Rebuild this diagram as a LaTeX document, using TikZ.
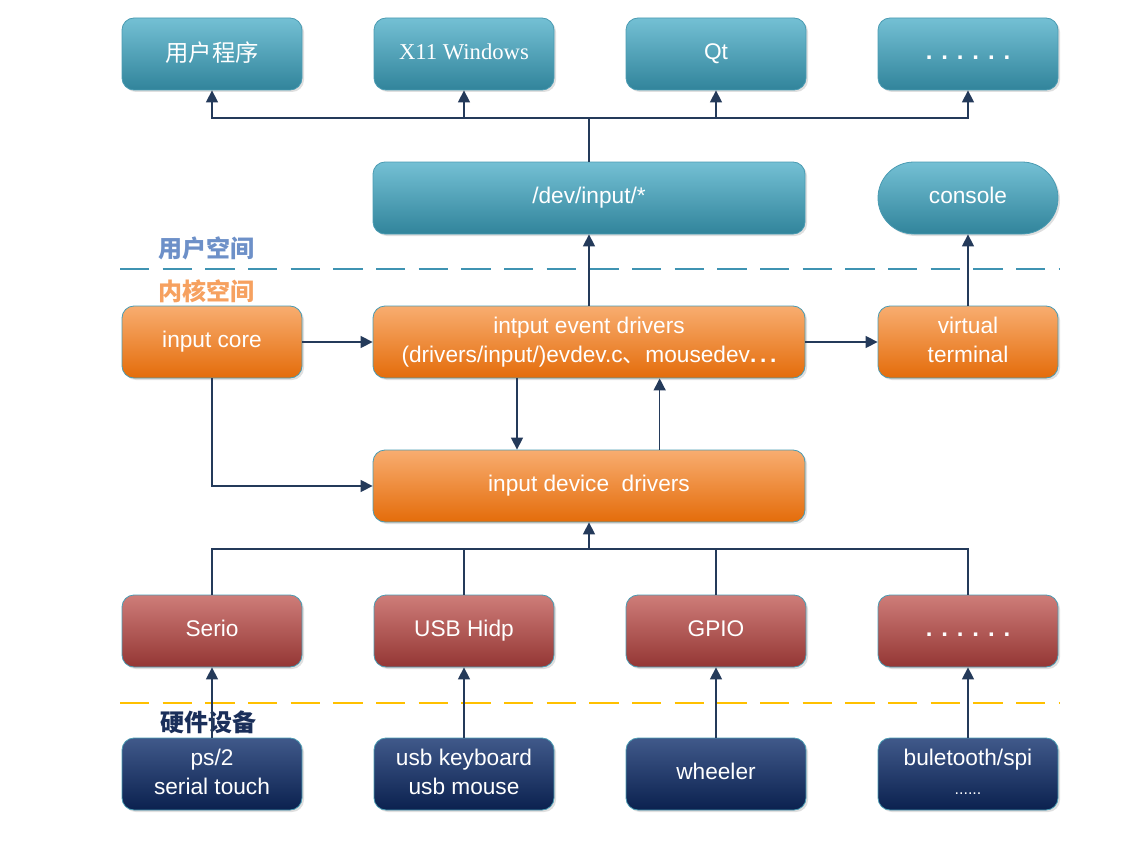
\documentclass[tikz,border=0pt]{standalone}
\usepackage{fontspec}
\setmainfont{Liberation Sans}
\newfontfamily\cjk{Noto Sans CJK SC}
\newfontfamily\serifx{Liberation Serif}
\usetikzlibrary{arrows.meta,shadows}

\definecolor{tealtop}{HTML}{74C0D4}
\definecolor{tealbot}{HTML}{31849B}
\definecolor{orgtop}{HTML}{F8AD70}
\definecolor{orgbot}{HTML}{E46C0A}
\definecolor{redtop}{HTML}{CE7D79}
\definecolor{redbot}{HTML}{943634}
\definecolor{navytop}{HTML}{40598A}
\definecolor{navybot}{HTML}{0B214F}
\definecolor{boxline}{HTML}{4A9BB2}
\definecolor{linecol}{HTML}{243A5A}
\definecolor{userdash}{HTML}{3F93B2}
\definecolor{hwdash}{HTML}{FFC000}
\definecolor{userlbl}{HTML}{6D90C8}
\definecolor{kernlbl}{HTML}{F6A160}
\definecolor{hwlbl}{HTML}{1A2F5A}

\newcommand{\bigdots}{{\bfseries\fontsize{18}{21}\selectfont . . . . . .}}

\tikzset{
  box/.style={rounded corners=9pt, draw=boxline, line width=0.6pt,
    minimum width=135pt, minimum height=54pt, align=center, text=white,
    font=\fontsize{17}{21.5}\selectfont,
    execute at begin node={\vphantom{Ay}},
    drop shadow={shadow xshift=1.5pt, shadow yshift=-1.5pt, opacity=0.25}},
  userbox/.style={box, top color=tealtop, bottom color=tealbot},
  kernbox/.style={box, top color=orgtop, bottom color=orgbot},
  busbox/.style={box, top color=redtop, bottom color=redbot},
  hwbox/.style={box, top color=navytop, bottom color=navybot},
  wide/.style={minimum width=324pt},
  conn/.style={draw=linecol, line width=1.1pt},
  arr/.style={conn, -{Triangle[width=9pt,length=9pt]}},
  spacelbl/.style={font=\cjk\bfseries\fontsize{18}{20}\selectfont},
}

\begin{document}
\begin{tikzpicture}[x=0.75pt, y=-0.75pt]
  \useasboundingbox (0,0) rectangle (1143,842);

  % user space
  \node[userbox] (app)  at (212,54) {\cjk\fontsize{17.5}{21.5}\selectfont 用户程序};
  \node[userbox] (x11)  at (464,54) {\serifx X11 Windows};
  \node[userbox] (qt)   at (716,54) {Qt};
  \node[userbox] (more) at (968,54) {\bigdots};
  \node[userbox, wide] (devinput) at (589,198) {/dev/input/*};
  \node[userbox, rounded corners=27pt] (console) at (968,198) {console};

  % separators and labels
  \draw[userdash, line width=2.2pt, dash pattern=on 22pt off 10pt] (120,269) -- (1060,269);
  \draw[hwdash, line width=2pt, dash pattern=on 22pt off 10pt] (120,703) -- (1060,703);
  \node[spacelbl, text=userlbl] (userlabel) at (206,248) {用户空间};
  \node[spacelbl, text=kernlbl] (kernlabel) at (206,291) {内核空间};
  \node[spacelbl, text=hwlbl] (hwlabel) at (208,722) {硬件设备};

  % kernel space
  \node[kernbox] (core) at (212,342) {input core};
  \node[kernbox, wide] (event) at (589,342)
    {intput event drivers\\(drivers/input/)evdev.c{\cjk 、}mousedev{\bfseries .\,.\,.}};
  \node[kernbox] (vt) at (968,342) {virtual\\terminal};
  \node[kernbox, wide] (device) at (589,486) {input device\ \ drivers};

  % bus drivers
  \node[busbox] (serio) at (212,631) {Serio};
  \node[busbox] (usb)   at (464,631) {USB Hidp};
  \node[busbox] (gpio)  at (716,631) {GPIO};
  \node[busbox] (bmore) at (968,631) {\bigdots};

  % hardware
  \node[hwbox] (ps2)   at (212,774) {ps/2\\serial touch};
  \node[hwbox] (kbd)   at (464,774) {usb keyboard\\usb mouse};
  \node[hwbox] (wheel) at (716,774) {wheeler};
  \node[hwbox] (bt)    at (968,774) {buletooth/spi\\{\fontsize{12}{14}\selectfont ......}};

  % top fan-out
  \coordinate (topbus) at (589,118);
  \draw[conn] (devinput.north) -- (topbus);
  \foreach \n in {app,x11,qt,more}
    \draw[arr] (topbus) -| (\n.south);

  % kernel connections
  \draw[arr] (event.north) -- (devinput.south);
  \draw[arr] (vt.north) -- (console.south);
  \draw[arr] (core.east) -- (event.west);
  \draw[arr] (event.east) -- (vt.west);
  \draw[arr] ([xshift=-54pt]event.south) -- ([xshift=-54pt]device.north);
  \draw[arr] ([xshift=53pt]device.north) -- ([xshift=53pt]event.south);
  \draw[arr] (core.south) |- (device.west);

  % bottom fan-in
  \coordinate (botbus) at (589,549);
  \draw[arr] (botbus) -- (device.south);
  \foreach \n in {serio,usb,gpio,bmore}
    \draw[conn] (\n.north) |- (botbus);

  % hardware to bus
  \draw[arr] (ps2.north) -- (serio.south);
  \draw[arr] (kbd.north) -- (usb.south);
  \draw[arr] (wheel.north) -- (gpio.south);
  \draw[arr] (bt.north) -- (bmore.south);
\end{tikzpicture}
\end{document}
